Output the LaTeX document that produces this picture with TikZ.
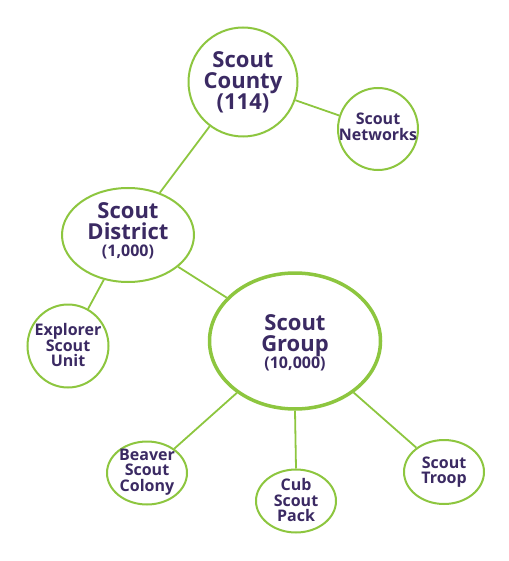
\documentclass[tikz,border=0pt]{standalone}
\usepackage{fontspec}
\setmainfont{Open Sans}
\usetikzlibrary{shapes.geometric}
\definecolor{sgreen}{HTML}{8DC63F}
\definecolor{spurple}{HTML}{3B2A63}
\tikzset{
  bub/.style={ellipse, draw=sgreen, line width=2pt, fill=white, inner sep=0pt},
  txt/.style={align=center, text=spurple, inner sep=0pt},
  bigtxt/.style={txt, font=\bfseries\fontsize{22}{21}\selectfont},
  smalltxt/.style={txt, font=\bfseries\fontsize{16}{15.5}\selectfont},
  link/.style={draw=sgreen, line width=1.8pt}
}
\newcommand{\numtxt}[1]{{\fontsize{16}{16}\selectfont #1}}
\begin{document}
\begin{tikzpicture}[x=1pt,y=-1pt]
\useasboundingbox (0,0) rectangle (508,561);
\node[bub, minimum width=109pt, minimum height=109pt] (county) at (243,82) {};
\node[bigtxt] (countyt) at (243,82) {Scout\\County\\(114)};
\node[bub, minimum width=80pt, minimum height=82pt] (net) at (378,129) {};
\node[smalltxt] (nett) at (378,127) {Scout\\Networks};
\node[bub, minimum width=132pt, minimum height=94pt] (district) at (128,235) {};
\node[bigtxt] (districtt) at (128,231) {Scout\\District\\[-4pt]\numtxt{(1,000)}};
\node[bub, minimum width=171pt, minimum height=136pt, line width=3.5pt] (group) at (295,341) {};
\node[bigtxt] (groupt) at (295,343) {Scout\\Group\\[-4pt]\numtxt{(10,000)}};
\node[bub, minimum width=81pt, minimum height=83pt] (expl) at (68,346) {};
\node[smalltxt, font=\bfseries\fontsize{16}{14.5}\selectfont] (explt) at (68,345) {Explorer\\Scout\\Unit};
\node[bub, minimum width=80pt, minimum height=63pt] (beaver) at (147,473) {};
\node[smalltxt] (beavert) at (147,472) {Beaver\\Scout\\Colony};
\node[bub, minimum width=80pt, minimum height=63pt] (cub) at (296,501) {};
\node[smalltxt] (cubt) at (296,500) {Cub\\Scout\\Pack};
\node[bub, minimum width=80pt, minimum height=64pt] (troop) at (444,472) {};
\node[smalltxt] (troopt) at (444,472) {Scout\\Troop};
\path[link] (county) -- (net);
\path[link] (county) -- (district);
\path[link] (district) -- (group);
\path[link] (district) -- (expl);
\path[link] (group) -- (beaver);
\path[link] (group.south) -- (cub.north);
\path[link] (group) -- (troop);
\end{tikzpicture}
\end{document}
